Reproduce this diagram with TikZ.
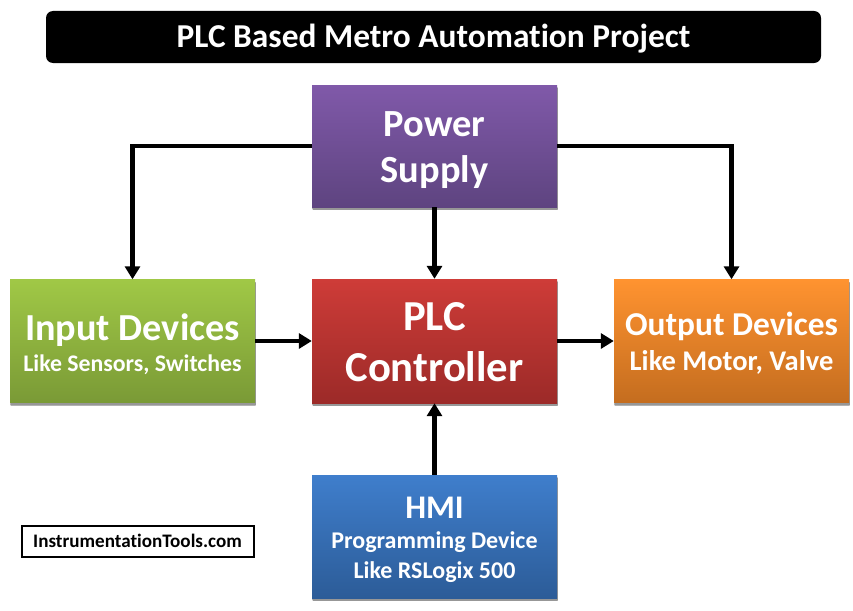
\documentclass[tikz,border=0pt]{standalone}
\usepackage{fontspec}
\setmainfont[RawFeature=-liga]{Carlito}
\usetikzlibrary{arrows.meta,shadows}
\definecolor{purpletop}{HTML}{8059A9}
\definecolor{purplebot}{HTML}{5E4480}
\definecolor{redtop}{HTML}{CE3C38}
\definecolor{redbot}{HTML}{9C2A28}
\definecolor{greentop}{HTML}{A0C846}
\definecolor{greenbot}{HTML}{7A9A36}
\definecolor{orangetop}{HTML}{FF9330}
\definecolor{orangebot}{HTML}{C46D1F}
\definecolor{bluetop}{HTML}{3F7ECC}
\definecolor{bluebot}{HTML}{2C5C98}
\tikzset{
	blockbox/.style={rectangle,inner sep=0pt,text=white,align=center,
		drop shadow={shadow xshift=0.5pt,shadow yshift=-2.5pt,opacity=0.3,top color=black,bottom color=black}},
	link/.style={line width=4.4pt,-{Triangle[length=13pt,width=15pt]}}
}
\begin{document}
\begin{tikzpicture}[x=1pt,y=-1pt]
	\useasboundingbox (0,0) rectangle (853,610);
	% Heading bar
	\node[rectangle,rounded corners=7pt,fill=black,text=white,minimum width=775pt,minimum height=52pt,
		text height=26pt,text depth=4pt,font=\bfseries\fontsize{33.4}{36}\selectfont] (heading) at (433.5,37) {PLC Based Metro Automation Project};
	% Blocks
	\node[blockbox,top color=purpletop,bottom color=purplebot,minimum width=245pt,minimum height=122pt,
		text height=80pt,text depth=8pt,font=\bfseries\fontsize{38.4}{45.5}\selectfont] (power) at (434.5,146) {Power\\Supply};
	\node[blockbox,top color=redtop,bottom color=redbot,minimum width=245pt,minimum height=124pt,
		text height=90pt,text depth=10pt,font=\bfseries\fontsize{42.7}{51}\selectfont] (plc) at (434.5,341) {PLC\\Controller};
	\node[blockbox,top color=greentop,bottom color=greenbot,minimum width=245pt,minimum height=123pt,
		text height=69pt,text depth=8pt,font=\bfseries\fontsize{23.8}{31}\selectfont] (input) at (132.5,341)
		{{\fontsize{38.2}{31}\selectfont Input Devices}\\Like Sensors, Switches};
	\node[blockbox,top color=orangetop,bottom color=orangebot,minimum width=235pt,minimum height=123pt,
		text height=66pt,text depth=8pt,font=\bfseries\fontsize{28.5}{35}\selectfont] (output) at (731.5,341)
		{{\fontsize{33.4}{35}\selectfont Output Devices}\\Like Motor, Valve};
	\node[blockbox,top color=bluetop,bottom color=bluebot,minimum width=245pt,minimum height=123pt,
		text height=91pt,text depth=8pt,font=\bfseries\fontsize{24}{30}\selectfont] (hmi) at (434.5,536.5)
		{{\fontsize{33}{30}\selectfont HMI}\\Programming Device\\Like RSLogix 500};
	% Site label
	\node[rectangle,draw=black,line width=2pt,minimum width=232pt,minimum height=31pt,inner sep=0pt,
		font=\bfseries\fontsize{19.1}{22}\selectfont] (site) at (137.5,541) {InstrumentationTools.com};
	% Connections
	\draw[link] (power.west) -| (input.north);
	\draw[link] (power.east) -| (output.north);
	\draw[link] (power.south) -- (plc.north);
	\draw[link] (input.east) -- (plc.west);
	\draw[link] (plc.east) -- (output.west);
	\draw[link] (hmi.north) -- (plc.south);
\end{tikzpicture}
\end{document}
